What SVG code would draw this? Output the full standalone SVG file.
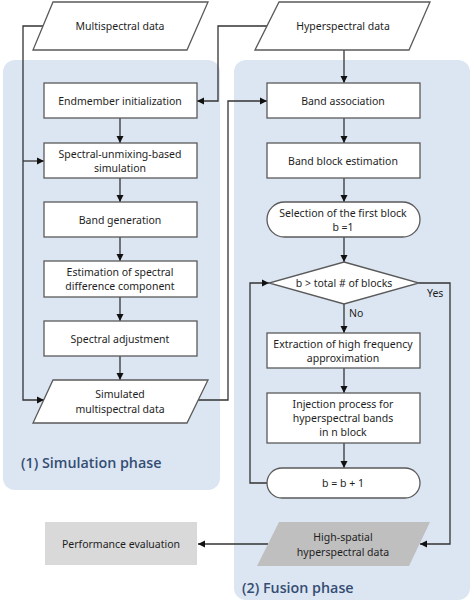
<svg xmlns="http://www.w3.org/2000/svg" width="474" height="605" viewBox="0 0 474 605">
<style>
text{font-family:"Noto Sans","Open Sans","Liberation Sans",sans-serif;font-size:10.5px;fill:#1e1e1e;text-anchor:middle;dominant-baseline:central}
.box{fill:#fff;stroke:#5a5a5a;stroke-width:1.3}
.panel{fill:#dce6f2}
.lbl{font-family:"Open Sans","Noto Sans",sans-serif;font-size:14.3px;font-weight:600;fill:#354d72;text-anchor:start;dominant-baseline:auto}
.c{fill:none;stroke:#333;stroke-width:1.3}
.a{marker-end:url(#ah)}
</style>
<defs>
<marker id="ah" markerUnits="userSpaceOnUse" markerWidth="8" markerHeight="8" refX="7" refY="4" orient="auto">
<path d="M0,0.5 L7,4 L0,7.5 z" fill="#111"/>
</marker>
</defs>
<rect class="panel" x="3" y="60" width="217" height="430" rx="12"/>
<rect class="panel" x="234" y="60" width="236" height="540" rx="12"/>
<text class="lbl" x="21" y="468">(1) Simulation phase</text>
<text class="lbl" x="242" y="593">(2) Fusion phase</text>

<g id="connectors">
<polyline class="c a" points="43,26 23,26 23,400 44,400"/>
<polyline class="c a" points="23,161 44,161"/>
<polyline class="c a" points="267,26 218,26 218,101 197,101"/>
<polyline class="c a" points="344,50 344,83"/>
<polyline class="c a" points="120,118 120,143"/>
<polyline class="c a" points="120,178 120,202"/>
<polyline class="c a" points="120,237 120,261"/>
<polyline class="c a" points="120,297 120,321"/>
<polyline class="c a" points="120,356 120,380"/>
<polyline class="c a" points="198,400 228,400 228,101 267,101"/>
<polyline class="c a" points="344,118 344,143"/>
<polyline class="c a" points="344,178 344,202"/>
<polyline class="c a" points="344,237 344,262"/>
<polyline class="c a" points="344,304 344,333"/>
<polyline class="c a" points="344,368 344,393"/>
<polyline class="c a" points="344,443 344,468"/>
<polyline class="c a" points="267,483 250,483 250,283 269,283"/>
<polyline class="c a" points="419,283 450,283 450,544 420,544"/>
<polyline class="c a" points="268,544 198,544"/>
<text x="427" y="293" style="text-anchor:start">Yes</text>
<text x="349" y="313" style="text-anchor:start">No</text>
</g>

<g id="multispectral-data">
<polygon class="box" points="53,2 208,2 187,50 33,50"/>
<text x="120" y="26">Multispectral data</text>
</g>
<g id="hyperspectral-data">
<polygon class="box" points="279,2 430,2 409,50 255,50"/>
<text x="343" y="26">Hyperspectral data</text>
</g>
<g id="endmember-init">
<rect class="box" x="44" y="83" width="153" height="35"/>
<text x="120" y="101">Endmember initialization</text>
</g>
<g id="unmixing-sim">
<rect class="box" x="44" y="143" width="153" height="35"/>
<text x="120" y="153.5">Spectral-unmixing-based</text>
<text x="120" y="167.5">simulation</text>
</g>
<g id="band-generation">
<rect class="box" x="44" y="202" width="153" height="35"/>
<text x="120" y="219.5">Band generation</text>
</g>
<g id="spectral-difference">
<rect class="box" x="44" y="261" width="153" height="36"/>
<text x="120" y="271.5">Estimation of spectral</text>
<text x="120" y="286">difference component</text>
</g>
<g id="spectral-adjustment">
<rect class="box" x="44" y="321" width="153" height="35"/>
<text x="120" y="338.5">Spectral adjustment</text>
</g>
<g id="simulated-ms-data">
<polygon class="box" points="53,380 208,380 187,423 33,423"/>
<text x="120" y="394">Simulated</text>
<text x="120" y="409">multispectral data</text>
</g>
<g id="performance-evaluation">
<rect x="45" y="522" width="152" height="43" fill="#d9d9d9"/>
<text x="121" y="544">Performance evaluation</text>
</g>
<g id="band-association">
<rect class="box" x="267" y="83" width="153" height="35"/>
<text x="343" y="101">Band association</text>
</g>
<g id="band-block-estimation">
<rect class="box" x="267" y="143" width="153" height="35"/>
<text x="343" y="160.5">Band block estimation</text>
</g>
<g id="first-block">
<rect class="box" x="267" y="202" width="153" height="35" rx="17.5"/>
<text x="343" y="212.5">Selection of the first block</text>
<text x="343" y="227">b =1</text>
</g>
<g id="decision">
<polygon class="box" points="344,262 419,283 344,304 269,283"/>
<text x="344" y="283">b &gt; total # of blocks</text>
</g>
<g id="extraction">
<rect class="box" x="267" y="333" width="153" height="35"/>
<text x="343" y="343.5">Extraction of high frequency</text>
<text x="343" y="357.5">approximation</text>
</g>
<g id="injection">
<rect class="box" x="267" y="393" width="153" height="50"/>
<text x="343" y="404">Injection process for</text>
<text x="343" y="418">hyperspectral bands</text>
<text x="343" y="432">in n block</text>
</g>
<g id="increment">
<rect class="box" x="267" y="468" width="153" height="30" rx="15"/>
<text x="343" y="483">b = b + 1</text>
</g>
<g id="high-spatial-data">
<polygon points="279,522 430,522 409,566 257,566" fill="#bfbfbf"/>
<text x="343" y="537">High-spatial</text>
<text x="343" y="552">hyperspectral data</text>
</g>
</svg>
